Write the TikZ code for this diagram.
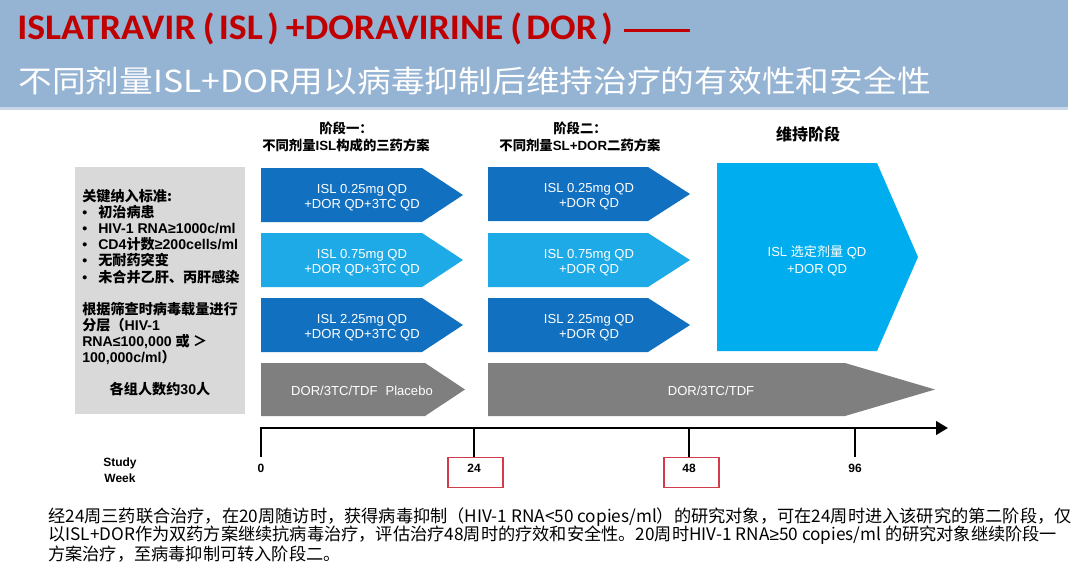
\documentclass[tikz,border=0pt]{standalone}
\usepackage{fontspec}
\usepackage{graphicx}
\setmainfont{Liberation Sans}
\newfontfamily\zh{Noto Sans CJK SC}
\newfontfamily\lat{Liberation Sans}
\newfontfamily\ttlfont{Carlito}
\usetikzlibrary{arrows.meta}
\definecolor{band}{HTML}{95B3D3}
\definecolor{bandline}{HTML}{C8D7E7}
\definecolor{ttlred}{HTML}{C00000}
\definecolor{dblue}{HTML}{1170C0}
\definecolor{lblue}{HTML}{1EAAE7}
\definecolor{cyanb}{HTML}{00AEEF}
\definecolor{garr}{HTML}{7F7F7F}
\definecolor{gbox}{HTML}{D9D9D9}
\definecolor{redbox}{HTML}{D23B4C}
\newcommand\penta[6]{\fill[#6] (#1,#2) -- (#3,#2) -- (#4,{(#2+#5)/2}) -- (#3,#5) -- (#1,#5) -- cycle;}
\tikzset{
  arrtxt/.style={text=white, font=\fontsize{9.8}{11.3}\selectfont, align=center, inner sep=0pt},
  hdr/.style={font=\bfseries\fontsize{10}{12.75}\selectfont, align=center, inner sep=0pt},
  boxtxt/.style={font=\bfseries\fontsize{10.6}{12}\selectfont, anchor=base west, inner sep=0pt},
  axlabel/.style={font=\bfseries\fontsize{9}{12}\selectfont, align=center, inner sep=0pt},
  weekbox/.style={draw=redbox, line width=1.2pt, minimum width=55*0.75pt, minimum height=30*0.75pt, inner sep=0pt},
  foot/.style={font=\zh\fontsize{12.9}{14}\selectfont, anchor=west, inner sep=0pt}
}
\begin{document}
\begin{tikzpicture}[x=0.75pt,y=-0.75pt]
\useasboundingbox (0,0) rectangle (1080,574);
\fill[white] (0,0) rectangle (1080,574);
% header band
\fill[band] (0,0) rectangle (1068,107);
\fill[bandline] (0,107) rectangle (1068,110);
\node[anchor=base west, inner sep=0pt, text=ttlred, font=\ttlfont\bfseries\fontsize{27}{30}\selectfont] (t1) at (17,40) {\scalebox{1.05}[1]{ISLATRAVIR\hspace{5pt}(\hspace{3pt}ISL\hspace{3pt})\hspace{5pt}+DORAVIRINE\hspace{5pt}(\hspace{3pt}DOR\hspace{3pt})\hspace{8pt}\rule[5.8pt]{47pt}{2.4pt}}};
\node[anchor=base west, inner sep=0pt, text=white, font=\zh\fontsize{25.3}{30}\selectfont] (t2) at (18,93) {\scalebox{1}[0.9]{不同剂量ISL+DOR用以病毒抑制后维持治疗的有效性和安全性}};
% column headers
\node[hdr] (h1) at (346,136.5) {{\zh 阶段一：}\\{\zh 不同剂量}ISL{\zh 构成的三药方案}};
\node[hdr] (h2) at (580,136.5) {{\zh 阶段二：}\\{\zh 不同剂量}SL+DOR{\zh 二药方案}};
\node[font=\zh\bfseries\fontsize{12}{14}\selectfont, inner sep=0pt] (h3) at (808,134) {维持阶段};
% gray box
\fill[gbox] (75,167) rectangle (245,414);
\node[boxtxt] (g1) at (82,201) {\zh 关键纳入标准:};
\node[boxtxt] (b1) at (82,217.2) {\textbullet};
\node[boxtxt] (g2) at (98,217.2) {\zh 初治病患};
\node[boxtxt] (b2) at (82,233.4) {\textbullet};
\node[boxtxt] (g3) at (98,233.4) {HIV-1 RNA≥1000c/ml};
\node[boxtxt] (b3) at (82,249.6) {\textbullet};
\node[boxtxt] (g4) at (98,249.6) {CD4{\zh 计数}≥200cells/ml};
\node[boxtxt] (b4) at (82,265.8) {\textbullet};
\node[boxtxt] (g5) at (98,265.8) {\zh 无耐药突变};
\node[boxtxt] (b5) at (82,282) {\textbullet};
\node[boxtxt] (g6) at (98,282) {\zh 未合并乙肝、丙肝感染};
\node[boxtxt] (g7) at (82,314) {\zh 根据筛查时病毒载量进行};
\node[boxtxt] (g8) at (82,330) {{\zh 分层（}HIV-1};
\node[boxtxt] (g9) at (82,346) {RNA≤100,000 {\zh 或 ＞}};
\node[boxtxt] (g10) at (82,362) {100,000c/ml{\zh ）}};
\node[boxtxt, anchor=base] (g11) at (160,394) {{\zh 各组人数约}30{\zh 人}};
% phase 1 arrows
\penta{261}{168}{422}{463}{222}{dblue}
\penta{261}{233}{422}{463}{287}{lblue}
\penta{261}{298}{422}{463}{352}{dblue}
\node[arrtxt] (a11) at (362,197.5) {ISL 0.25mg QD\\+DOR QD+3TC QD};
\node[arrtxt] (a12) at (362,262.5) {ISL 0.75mg QD\\+DOR QD+3TC QD};
\node[arrtxt] (a13) at (362,327.5) {ISL 2.25mg QD\\+DOR QD+3TC QD};
% phase 2 arrows
\penta{488}{167}{648}{690}{221}{dblue}
\penta{488}{233}{648}{690}{287}{lblue}
\penta{488}{298}{648}{690}{352}{dblue}
\node[arrtxt] (a21) at (589,196.5) {ISL 0.25mg QD\\+DOR QD};
\node[arrtxt] (a22) at (589,262.5) {ISL 0.75mg QD\\+DOR QD};
\node[arrtxt] (a23) at (589,327.5) {ISL 2.25mg QD\\+DOR QD};
% maintenance
\penta{717}{163}{877}{918}{351}{cyanb}
\node[arrtxt, font=\fontsize{9.8}{12.5}\selectfont] (m1) at (817,261) {ISL {\zh 选定剂量} QD\\+DOR QD};
% gray control arrows
\penta{261}{363}{425}{465}{416}{garr}
\penta{488}{363}{845}{935}{416}{garr}
\node[arrtxt] (c1) at (362,391) {DOR/3TC/TDF\hspace{6pt}Placebo};
\node[arrtxt] (c2) at (711,391) {DOR/3TC/TDF};
% timeline
\coordinate (w0) at (261,428);
\coordinate (wend) at (948,428);
\coordinate (w24) at (474,428);
\coordinate (w48) at (689,428);
\coordinate (w96) at (855,428);
\draw[line width=2.2pt, -{Triangle[length=9pt,width=10pt]}] ([xshift=-1pt]w0) -- (wend);
\draw[line width=1.5pt] (w0) -- ++(0,29);
\draw[line width=1.5pt] (w24) -- ++(0,29);
\draw[line width=1.5pt] (w48) -- ++(0,29);
\draw[line width=1.5pt] (w96) -- ++(0,29);
\node[axlabel] (sw) at (120,470) {Study\\Week};
\node[axlabel] (l0) at (261,468) {0};
\node[weekbox] (r24) at (475.5,472.5) {};
\node[axlabel] (l24) at (474,468) {24};
\node[weekbox] (r48) at (691.5,472.5) {};
\node[axlabel] (l48) at (689,468) {48};
\node[axlabel] (l96) at (855,468) {96};
% footer
\node[foot] (f1) at (48,517) {经24周三药联合治疗，在20周随访时，获得病毒抑制（HIV-1 RNA<50 copies/ml）的研究对象，可在24周时进入该研究的第二阶段，仅};
\node[foot] (f2) at (48,535.5) {以ISL+DOR作为双药方案继续抗病毒治疗，评估治疗48周时的疗效和安全性。20周时HIV-1 RNA{\lat ≥}50 copies/ml 的研究对象继续阶段一};
\node[foot] (f3) at (48,554) {方案治疗，至病毒抑制可转入阶段二。};
\end{tikzpicture}
\end{document}
